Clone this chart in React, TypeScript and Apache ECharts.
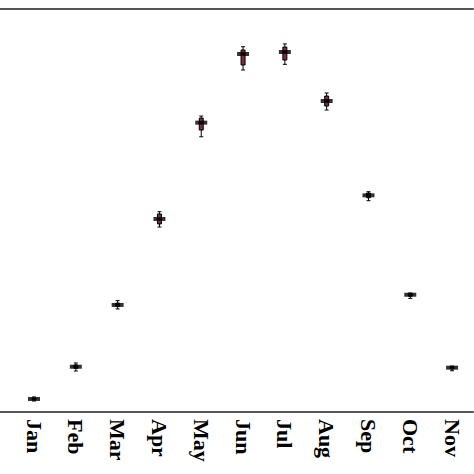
import React, { useEffect, useRef } from "react";
import * as echarts from "echarts";

const months = ["Jan", "Feb", "Mar", "Apr", "May", "Jun", "Jul", "Aug", "Sep", "Oct", "Nov"];
const minValues = [0.82, 3.05, 7.67, 13.77, 20.49, 25.46, 25.88, 22.48, 15.73, 8.46, 3.07];
const q1Values = [0.92, 3.25, 7.85, 14.0, 20.99, 25.83, 26.2, 22.78, 15.95, 8.62, 3.22];
const medianValues = [0.97, 3.37, 7.97, 14.37, 21.54, 26.65, 26.8, 23.15, 16.13, 8.73, 3.3];
const q3Values = [1.02, 3.5, 8.1, 14.74, 21.88, 26.95, 27.17, 23.52, 16.3, 8.8, 3.36];
const maxValues = [1.12, 3.65, 8.29, 14.91, 22.03, 27.19, 27.4, 23.75, 16.4, 8.86, 3.42];

export default function App() {
  const ref = useRef<HTMLDivElement>(null);
  useEffect(() => {
    if (!ref.current) return;
    const chart = echarts.init(ref.current, undefined, { renderer: "svg" });
    const axisData = ["", ...months];
    const boxData = months.map((m, i) => [m, minValues[i], q1Values[i], medianValues[i], q3Values[i], maxValues[i]]);
    const medData = months.map((m, i) => [m, medianValues[i]]);
    chart.setOption({
      animation: false,
      grid: { left: 11.3, width: 501.7, top: 9, bottom: 62 },
      xAxis: [
        {
          type: "category",
          data: axisData,
          boundaryGap: true,
          axisLine: { lineStyle: { color: "#555", width: 2 } },
          axisTick: { alignWithLabel: true, length: 6, lineStyle: { color: "#444", width: 1 } },
          axisLabel: {
            rotate: -90,
            margin: 7,
            interval: 0,
            color: "#000",
            fontFamily: "Liberation Serif",
            fontWeight: "bold",
            fontSize: 22,
          },
          splitLine: { show: false },
        },
        {
          type: "category",
          data: axisData,
          position: "top",
          axisLine: { lineStyle: { color: "#555", width: 2 } },
          axisTick: { show: false },
          axisLabel: { show: false },
        },
      ],
      yAxis: { type: "value", min: 0, max: 30, show: false, splitLine: { show: false } },
      series: [
        {
          type: "boxplot",
          data: boxData,
          encode: { x: 0, y: [1, 2, 3, 4, 5] },
          boxWidth: [4, 4],
          itemStyle: { color: "#7a2e40", borderColor: "#000", borderWidth: 1 },
        },
        {
          type: "scatter",
          data: medData,
          symbol: "rect",
          symbolSize: [12, 4],
          itemStyle: { color: "#000" },
          z: 5,
        },
      ],
    });
    return () => chart.dispose();
  }, []);
  return (
    <div style={{ position: "fixed", left: 0, top: 0, width: 474, height: 474, overflow: "hidden", background: "#fff" }}>
      <div ref={ref} style={{ position: "absolute", left: -40, top: 0, width: 600, height: 474 }} />
    </div>
  );
}
